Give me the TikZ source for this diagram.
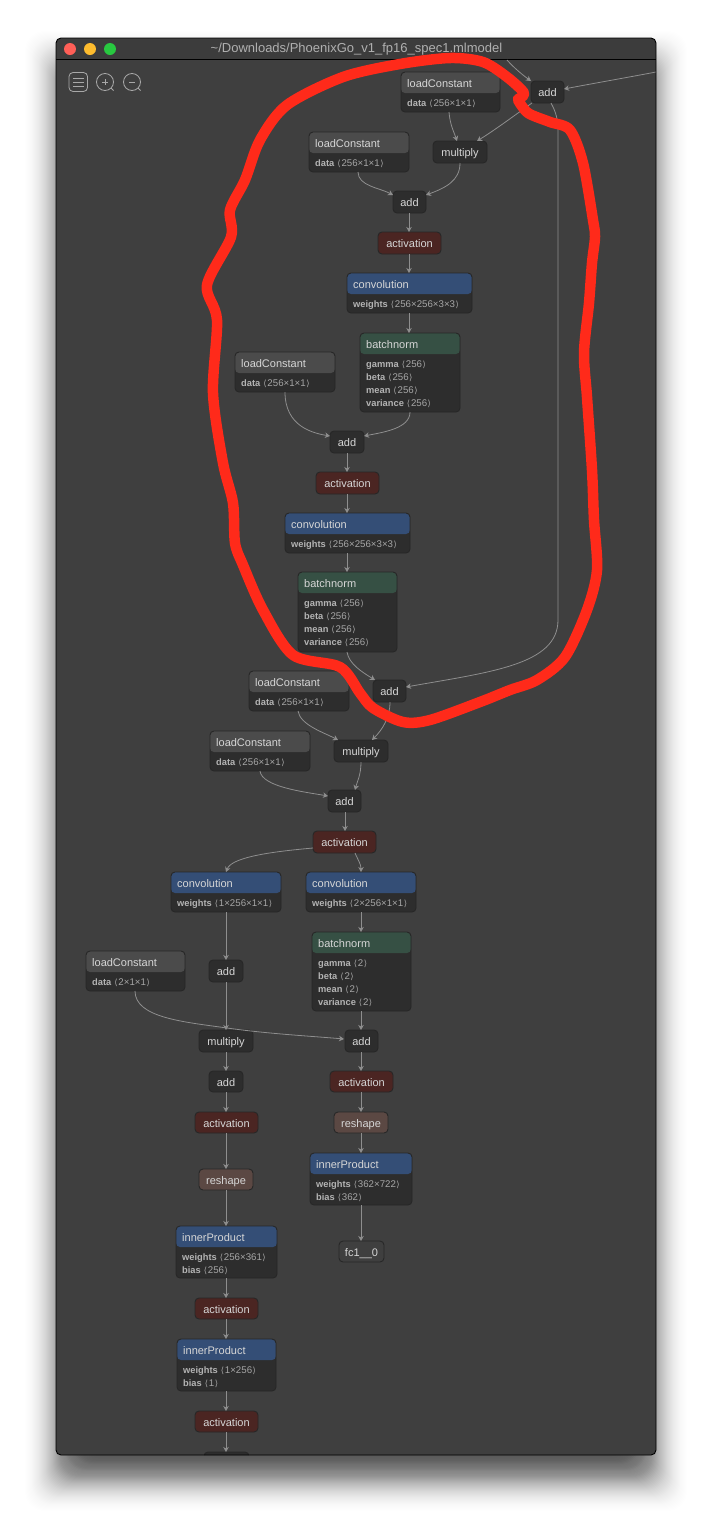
\documentclass[tikz,border=0pt]{standalone}
\usepackage{fontspec}
\setmainfont{Liberation Sans}
\newfontfamily\dvfont{DejaVu Sans}
\usetikzlibrary{arrows.meta}
\definecolor{winbg}{HTML}{3F3F3F}
\definecolor{barbg}{HTML}{3C3C3C}
\definecolor{opbg}{HTML}{2D2D2D}
\definecolor{opline}{HTML}{272727}
\definecolor{hload}{HTML}{4B4B4B}
\definecolor{hconv}{HTML}{344E76}
\definecolor{hbatch}{HTML}{365044}
\definecolor{hact}{HTML}{4B2522}
\definecolor{hshape}{HTML}{5B4843}
\definecolor{txtc}{HTML}{D6D6D6}
\definecolor{rowc}{HTML}{B4B4B4}
\definecolor{valc}{HTML}{A6A6A6}
\definecolor{edgec}{HTML}{8E8E8E}
\definecolor{redm}{HTML}{FF2A1A}
\definecolor{iconc}{HTML}{A8A8A8}
\definecolor{titlec}{HTML}{B0B0B0}
\definecolor{lightr}{HTML}{FF5F57}
\definecolor{lighty}{HTML}{FEBC2E}
\definecolor{lightg}{HTML}{28C840}
\tikzset{
  x=1pt,y=-1pt,
  boxshape/.style={draw=opline,line width=0.9pt,rounded corners=4pt,fill=opbg,inner sep=0pt,outer sep=0pt},
  titletext/.style={text=txtc,font=\fontsize{11}{13}\selectfont,inner sep=0pt,anchor=west},
  rowtext/.style={text=rowc,font=\fontsize{9.3}{13}\selectfont,inner sep=0pt,anchor=north west,align=left},
  optext/.style={text=txtc,font=\fontsize{11}{13}\selectfont,text height=10.5pt,text depth=1.5pt},
  edge/.style={draw=edgec,line width=0.8pt,-{Stealth[length=5pt,width=5.5pt,inset=1.5pt]}},
  iconline/.style={draw=iconc,line width=0.8pt,fill=none}
}
\newcommand{\rw}[2]{\textbf{#1}\hspace{3pt}{\color{valc}{\dvfont\fontsize{8.5}{13}\selectfont⟨}\kern0.8pt{\fontsize{9.7}{13}\selectfont #2}\kern0.5pt{\dvfont\fontsize{8.5}{13}\selectfont⟩}}}
% id x1 y1 x2 y2 colour title rows
\newcommand{\mlnode}[8]{%
  \node[boxshape,minimum width={(#4-#2)*1pt},minimum height={(#5-#3)*1pt},
    path picture={\fill[#6] (path picture bounding box.north west) rectangle ([yshift=-21pt]path picture bounding box.north east);}]
    (#1) at ({(#2+#4)/2},{(#3+#5)/2}) {};
  \node[titletext] (#1t) at (#2+6,#3+12) {#7};
  \node[rowtext] (#1r) at (#2+6,#3+27.5) {#8};
}
% id x1 y1 x2 y2 colour text
\newcommand{\opnode}[7]{%
  \node[boxshape,fill=#6,optext,minimum width={(#4-#2)*1pt},minimum height={(#5-#3)*1pt}]
    (#1) at ({(#2+#4)/2},{(#3+#5)/2}) {#7};
}
% straight vertical connector at page x
\newcommand{\vedge}[3]{\draw[edge] (#1.south -| #3,0) -- (#2.north -| #3,0);}
\begin{document}
\begin{tikzpicture}
\useasboundingbox (0,0) rectangle (712,1529);
\fill[white] (0,0) rectangle (712,1529);
% shadow
\foreach \i in {-42,...,42}{
  \pgfmathsetmacro{\op}{0.0004+0.024*(1-abs(\i)/42)}
  \fill[black,opacity=\op,rounded corners=20pt] (64-\i,70-\i) rectangle (648+\i,1472+\i);
}
% window
\fill[winbg,rounded corners=5pt] (56,38) rectangle (656,1455);
\begin{scope}
\clip[rounded corners=5pt] (56,38) rectangle (656,1455);
\fill[barbg] (56,38) rectangle (656,59);
\draw[black,line width=0.9pt] (56,59) -- (656,59);

% nodes
\mlnode{lca}{401}{72}{500}{112}{hload}{loadConstant}{\rw{data}{256×1×1}}
\opnode{addz}{531}{81}{564}{103}{opbg}{add}
\opnode{mula}{433}{141}{487}{163}{opbg}{multiply}
\mlnode{lcb}{309}{132}{409}{172}{hload}{loadConstant}{\rw{data}{256×1×1}}
\opnode{adda}{393}{191}{426}{213}{opbg}{add}
\opnode{acta}{378}{232}{441}{254}{hact}{activation}
\mlnode{cva}{347}{273}{472}{313}{hconv}{convolution}{\rw{weights}{256×256×3×3}}
\mlnode{bna}{360}{333}{460}{412}{hbatch}{batchnorm}{\rw{gamma}{256}\\\rw{beta}{256}\\\rw{mean}{256}\\\rw{variance}{256}}
\mlnode{lcc}{235}{352}{335}{392}{hload}{loadConstant}{\rw{data}{256×1×1}}
\opnode{addb}{330}{431}{364}{453}{opbg}{add}
\opnode{actb}{316}{472}{379}{494}{hact}{activation}
\mlnode{cvb}{285}{513}{410}{553}{hconv}{convolution}{\rw{weights}{256×256×3×3}}
\mlnode{bnb}{298}{572}{397}{652}{hbatch}{batchnorm}{\rw{gamma}{256}\\\rw{beta}{256}\\\rw{mean}{256}\\\rw{variance}{256}}
\mlnode{lcd}{249}{671}{349}{711}{hload}{loadConstant}{\rw{data}{256×1×1}}
\opnode{addc}{373}{680}{406}{702}{opbg}{add}
\opnode{mulb}{334}{740}{388}{762}{opbg}{multiply}
\mlnode{lce}{210}{731}{310}{771}{hload}{loadConstant}{\rw{data}{256×1×1}}
\opnode{addd}{328}{790}{361}{812}{opbg}{add}
\opnode{actc}{313}{831}{376}{853}{hact}{activation}
\mlnode{cvl}{171}{872}{281}{912}{hconv}{convolution}{\rw{weights}{1×256×1×1}}
\mlnode{cvr}{306}{872}{416}{912}{hconv}{convolution}{\rw{weights}{2×256×1×1}}
\mlnode{bnc}{312}{932}{411}{1011}{hbatch}{batchnorm}{\rw{gamma}{2}\\\rw{beta}{2}\\\rw{mean}{2}\\\rw{variance}{2}}
\mlnode{lcf}{86}{951}{185}{991}{hload}{loadConstant}{\rw{data}{2×1×1}}
\opnode{adde}{209}{960}{243}{982}{opbg}{add}
\opnode{mulc}{199}{1030}{253}{1052}{opbg}{multiply}
\opnode{addf}{209}{1071}{243}{1092}{opbg}{add}
\opnode{addg}{345}{1030}{378}{1052}{opbg}{add}
\opnode{actd}{330}{1071}{393}{1092}{hact}{activation}
\opnode{rsr}{334}{1112}{388}{1133}{hshape}{reshape}
\opnode{acte}{195}{1112}{258}{1133}{hact}{activation}
\opnode{rsl}{199}{1169}{253}{1190}{hshape}{reshape}
\mlnode{ipr}{310}{1153}{412}{1205}{hconv}{innerProduct}{\rw{weights}{362×722}\\\rw{bias}{362}}
\opnode{fco}{339}{1241}{384}{1262}{winbg}{fc1\_\_0}
\mlnode{ipa}{176}{1226}{277}{1278}{hconv}{innerProduct}{\rw{weights}{256×361}\\\rw{bias}{256}}
\opnode{actf}{195}{1298}{258}{1319}{hact}{activation}
\mlnode{ipb}{177}{1339}{276}{1391}{hconv}{innerProduct}{\rw{weights}{1×256}\\\rw{bias}{1}}
\opnode{actg}{195}{1411}{258}{1432}{hact}{activation}
\opnode{lastn}{204}{1452}{249}{1474}{opbg}{}

% free ends
\coordinate (inx) at (507,60);
\coordinate (iny) at (656,72);

% connectors
\draw[edge] (inx) .. controls (514,68) and (524,76) .. (addz.north west);
\draw[edge] (iny) .. controls (630,77) and (590,84) .. ([yshift=3pt]addz.east);
\draw[edge] ([xshift=1pt]addz.south west) .. controls (515,115) and (495,130) .. ([xshift=-10pt]mula.north east);
\draw[edge] (lca.south -| 449,0) .. controls (450,125) and (454,132) .. (mula.north -| 457,0);
\draw[edge] (lcb.south -| 358,0) .. controls (358,186) and (380,188) .. ([yshift=7pt]adda.west);
\draw[edge] (mula.south -| 460,0) .. controls (460,181) and (445,188) .. ([yshift=7pt]adda.east);
\vedge{adda}{acta}{409}
\vedge{acta}{cva}{409}
\vedge{cva}{bna}{409}
\draw[edge] (lcc.south -| 285,0) .. controls (285,426) and (312,433) .. ([yshift=6pt]addb.west);
\draw[edge] (bna.south -| 410,0) .. controls (410,428) and (385,432) .. ([yshift=6pt]addb.east);
\vedge{addb}{actb}{347}
\vedge{actb}{cvb}{347}
\vedge{cvb}{bnb}{347}
\draw[edge] (bnb.south -| 347,0) .. controls (349,664) and (362,672) .. ([xshift=2pt]addc.north west);
\draw[edge] (addz.south -| 551,0) .. controls (556,112) and (558,120) .. (558,130) -- (558,620) .. controls (558,665) and (490,672) .. ([yshift=4pt]addc.east);
\draw[edge] (addc.south -| 390,0) .. controls (390,718) and (382,730) .. (mulb.north -| 372,0);
\draw[edge] (lcd.south -| 298,0) .. controls (300,725) and (325,733) .. ([xshift=4pt]mulb.north west);
\draw[edge] (lce.south -| 260,0) .. controls (262,787) and (305,792) .. ([yshift=5pt]addd.west);
\draw[edge] (mulb.south -| 361,0) .. controls (361,775) and (357,782) .. (addd.north -| 355,0);
\vedge{addd}{actc}{345}
\draw[edge] (actc.west |- 0,848) .. controls (280,851) and (232,856) .. (cvl.north -| 226,0);
\draw[edge] (actc.south -| 355,0) .. controls (358,860) and (361,864) .. (cvr.north -| 361,0);
\vedge{cvl}{adde}{226}
\vedge{adde}{mulc}{226}
\vedge{cvr}{bnc}{361}
\vedge{bnc}{addg}{361}
\draw[edge] (lcf.south -| 135,0) .. controls (135,1018) and (185,1022) .. (227,1028) .. controls (270,1034) and (310,1036) .. ([xshift=-1pt,yshift=2pt]addg.west);
\vedge{mulc}{addf}{226}
\vedge{addf}{acte}{226}
\vedge{acte}{rsl}{226}
\vedge{rsl}{ipa}{226}
\vedge{ipa}{actf}{226}
\vedge{actf}{ipb}{226}
\vedge{ipb}{actg}{226}
\vedge{actg}{lastn}{226}
\vedge{addg}{actd}{361}
\vedge{actd}{rsr}{361}
\vedge{rsr}{ipr}{361}
\vedge{ipr}{fco}{361}
\end{scope}

% window outline and title bar
\draw[black,line width=0.9pt,rounded corners=5pt] (56,38) rectangle (656,1455);
\fill[lightr] (70,49) circle (6);
\fill[lighty] (90,49) circle (6);
\fill[lightg] (110,49) circle (6);
\node[text=titlec,font=\fontsize{13}{15}\selectfont,inner sep=0pt] (wintitle) at (356.5,49.5) {\textasciitilde/Downloads/PhoenixGo\_v1\_fp16\_spec1.mlmodel};

% toolbar icons
\draw[iconline,rounded corners=4pt] (69,72.5) rectangle (87.5,91.5);
\draw[iconline] (73,78) -- (83.5,78) (73,82) -- (83.5,82) (73,86) -- (83.5,86);
\draw[iconline] (105,82) circle (8.5);
\draw[iconline] (111,88) -- (113.5,90.5);
\draw[iconline] (102,82) -- (108,82) (105,79) -- (105,85);
\draw[iconline] (132,82) circle (8.5);
\draw[iconline] (138,88) -- (140.5,90.5);
\draw[iconline] (129,82) -- (135,82);

% red marker stroke
\draw[redm,line width=10.5pt,line cap=round,line join=round] plot[smooth,tension=0.5] coordinates {
  (518,99) (524,93) (507,77) (483,62) (450,58) (400,64) (343,77) (287,105) (260,140) (245,180) (230,210)
  (231,237) (207,285) (217,320) (213,393) (223,463) (233,503) (235,543) (243,565) (263,610) (293,655)
  (340,667) (360,693) (373,708) (403,722) (430,720) (480,702) (510,690) (537,680) (565,657) (587,610) (597,570)
  (594,520) (592,470) (587,397) (584,353) (589,303) (592,263) (595,237) (593,220) (583,163) (570,130) (550,122) (528,113) (518,100)
};
\end{tikzpicture}
\end{document}
